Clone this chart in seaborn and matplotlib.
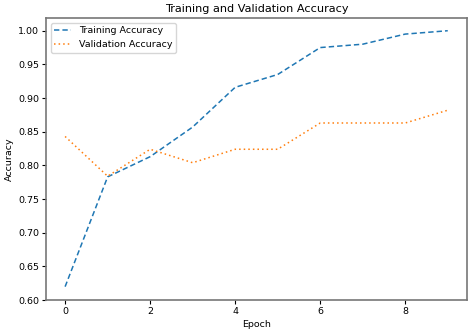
import matplotlib
matplotlib.use("Agg")
import matplotlib.pyplot as plt
import seaborn as sns
import pandas as pd

epochs = [0, 1, 2, 3, 4, 5, 6, 7, 8, 9]
train_acc = [0.620, 0.783, 0.813, 0.857, 0.916, 0.935, 0.975, 0.980, 0.995, 1.000]
val_acc = [0.843, 0.784, 0.824, 0.804, 0.824, 0.824, 0.863, 0.863, 0.863, 0.882]
series_names = ["Training Accuracy", "Validation Accuracy"]

df = pd.DataFrame({
    "Epoch": epochs * 2,
    "Accuracy": train_acc + val_acc,
    "Series": [series_names[0]] * len(epochs) + [series_names[1]] * len(epochs),
})

plt.rcParams["font.size"] = 6.8
plt.rcParams["xtick.major.size"] = 2.6
plt.rcParams["ytick.major.size"] = 2.6
plt.rcParams["xtick.major.pad"] = 2.4
plt.rcParams["ytick.major.pad"] = 2.4
fig = plt.figure(figsize=(4.74, 3.32), dpi=100)
ax = fig.add_axes([0.097, 0.096, 0.888, 0.85])

sns.lineplot(data=df, x="Epoch", y="Accuracy", hue="Series", style="Series",
             palette=["#1f77b4", "#ff7f0e"],
             dashes={series_names[0]: (3.5, 2), series_names[1]: (1, 2)},
             linewidth=1.1, ax=ax)

ax.set_title("Training and Validation Accuracy", fontsize=8.1, pad=4)
ax.set_xlabel("Epoch", labelpad=2.5)
ax.set_ylabel("Accuracy", labelpad=3)
ax.set_xticks([0, 2, 4, 6, 8])
ax.set_yticks([0.60, 0.65, 0.70, 0.75, 0.80, 0.85, 0.90, 0.95, 1.00])
ax.yaxis.set_major_formatter(matplotlib.ticker.FormatStrFormatter("%.2f"))
for s in ax.spines.values():
    s.set_color("#777777")
    s.set_linewidth(1.2)
ax.legend(loc="upper left", title=None, handlelength=1.8)

fig.savefig("out.png", dpi=100)
